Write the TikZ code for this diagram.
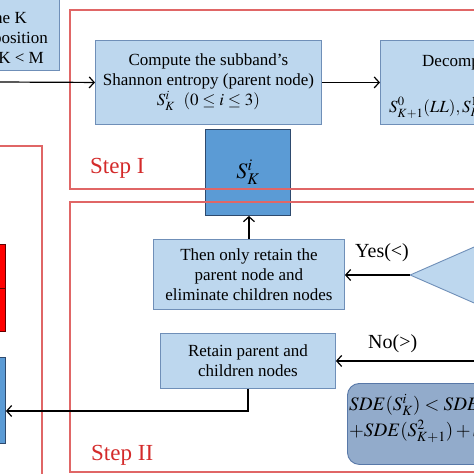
\documentclass[tikz,border=0pt]{standalone}
\usepackage{mathptmx}
\usepackage{fontspec}
\setmainfont{Liberation Serif}
\usetikzlibrary{arrows.meta,shapes.geometric}
\definecolor{lb}{HTML}{BDD7EE}
\definecolor{lbd}{HTML}{6F8FB8}
\definecolor{db}{HTML}{5B9BD5}
\definecolor{dbd}{HTML}{2E4A6E}
\definecolor{rl}{HTML}{E06666}
\definecolor{rt}{HTML}{D42A2A}
\definecolor{gb}{HTML}{92ABCB}
\definecolor{gbd}{HTML}{5878A8}
\definecolor{rf}{HTML}{FF0000}
\definecolor{rfd}{HTML}{600000}
\begin{document}
\begin{tikzpicture}[x=1pt,y=-1pt,
  txt/.style={font=\fontsize{17}{20}\selectfont},
  lbox/.style={draw=lbd, fill=lb, line width=0.9pt, inner sep=0pt, align=center, txt, anchor=north west},
  dbox/.style={draw=dbd, fill=db, line width=0.9pt, inner sep=0pt, anchor=north west},
  rbox/.style={draw=rfd, fill=rf, line width=0.9pt, inner sep=0pt, anchor=north west},
  arr/.style={-{Straight Barb[length=5pt,width=11pt]}, line width=1.2pt},
  redframe/.style={draw=rl, line width=1.2pt},
  steplabel/.style={text=rt, font=\fontsize{23}{27}\selectfont, inner sep=0pt, anchor=base west},
  lab/.style={font=\fontsize{20}{24}\selectfont, inner sep=0pt, anchor=base west},
  mtxt/.style={font=\fontsize{19}{22}\selectfont, inner sep=0pt, anchor=base west}]
\useasboundingbox (0,0) rectangle (474,474);
\clip (0,0) rectangle (474,474);
\fill[white] (0,0) rectangle (474,474);

% left boxes
\node (kbox) [lbox, anchor=south east, minimum width=200pt, minimum height=110pt] at (60,71) {};
\node (k1) [txt, inner sep=0pt, anchor=base east] at (27,23) {Determine the K};
\node (k2) [txt, inner sep=0pt, anchor=base east] at (48,43) {level of decomposition};
\node (k3) [txt, inner sep=0pt, anchor=base east] at (44,63) {0 < K < M};

\node (r1) [rbox, minimum width=45pt, minimum height=44pt] at (-40,244) {};
\node (r2) [rbox, minimum width=45pt, minimum height=43pt] at (-40,288) {};
\node (bl) [dbox, minimum width=45pt, minimum height=86pt] at (-40,357) {};

% step I
\node (comp) [lbox, minimum width=226pt, minimum height=84pt] at (95,40)
  {Compute the subband’s\\Shannon entropy (parent node)\\$S_K^i\ \ (0\le i\le 3)$};
\node (dec) [lbox, minimum width=200pt, minimum height=84pt] at (380,40) {};
\node (d1) [txt, inner sep=0pt, anchor=base west] at (422,66) {Decompose to the next level};
\node (d2) [txt, inner sep=0pt, anchor=base west] at (389,112)
  {$S^0_{K+1}(LL), S^1_{K+1}(LH)$};

\node (sk) [dbox, minimum width=85pt, minimum height=86pt, font=\fontsize{22}{26}\selectfont] at (205,129) {$S_K^i$};

% step II
\node (then) [lbox, minimum width=191pt, minimum height=70pt] at (153,239)
  {Then only retain the\\parent node and\\eliminate children nodes};
\node (ret) [lbox, minimum width=175pt, minimum height=55pt] at (160,333)
  {Retain parent and\\children nodes};
\node (dia) [diamond, draw=lbd, fill=lb, line width=0.9pt, minimum width=260pt, minimum height=114pt, inner sep=0pt] at (540,275) {};
\node (gray) [draw=gbd, fill=gb, line width=0.9pt, rounded corners=12pt, inner sep=0pt, anchor=north west, minimum width=200pt, minimum height=81pt] at (347,383) {};
\node (g1) [mtxt] at (349,410) {$SDE(S_K^i) < SDE(S^0_{K+1})$};
\node (g2) [mtxt] at (349,436) {$+SDE(S^2_{K+1}) + SDE(S^3_{K+1})$};

\node (yes) [lab] at (355,257) {Yes(<)};
\node (no) [lab] at (368,348) {No(>)};

% frames
\draw[redframe] (70,10) rectangle (540,189);
\draw[redframe] (70,202) rectangle (540,472);
\draw[redframe] (-20,146) rectangle (42,520);
\node (s1) [steplabel] at (90,173) {Step I};
\node (s2) [steplabel] at (91,460) {Step II};

% connectors
\coordinate (in1) at (-2,82);
\coordinate (bt) at (0,411);
\draw[arr] (in1) -- (comp.west);
\draw[arr] (comp.east) -- (dec.west);
\draw[arr] (then.north) -- (then.north |- sk.south);
\draw[arr] (dia.west) -- (dia.west -| then.east);
\draw[arr] (dia.south) |- (ret.east);
\draw[arr] (ret.south) |- (bl.east |- bt);
\end{tikzpicture}
\end{document}
